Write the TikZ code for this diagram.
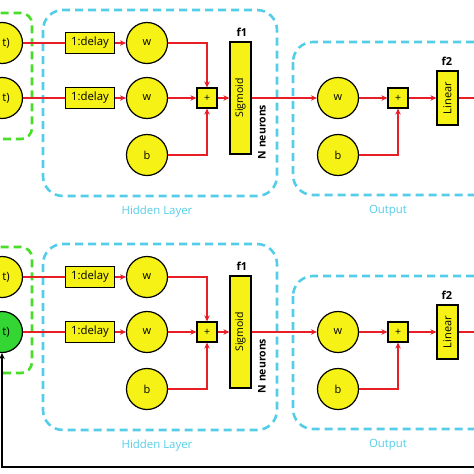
\documentclass[tikz,border=0pt]{standalone}
\usepackage{fontspec}
\setmainfont{Open Sans}
\usetikzlibrary{arrows.meta}
\definecolor{netred}{RGB}{232,30,38}
\definecolor{laycyan}{RGB}{84,206,232}
\definecolor{ingreen}{RGB}{72,222,40}
\definecolor{cellyellow}{RGB}{246,242,22}
\definecolor{feedgreen}{RGB}{52,214,52}
\tikzset{
    neuron/.style={circle, draw, line width=1.2pt, fill=cellyellow, minimum size=41pt, inner sep=0pt, font=\fontsize{11}{11}\selectfont}, % weight and bias circles
    unit/.style={draw, line width=1.2pt, fill=cellyellow, inner sep=0pt}, % yellow boxes
    delaybox/.style={unit, minimum width=49pt, minimum height=21pt, font=\fontsize{11.4}{11.4}\selectfont},
    sumbox/.style={unit, minimum size=20pt, font=\fontsize{10.5}{10.5}\selectfont},
    actbox/.style={unit, rotate=90, minimum height=21pt}, % transfer function boxes
    layerbox/.style={draw=laycyan, line width=2.6pt, dash pattern=on 8pt off 5pt, rounded corners=20pt},
    inbox/.style={draw=ingreen, line width=2.6pt, dash pattern=on 8pt off 5pt, rounded corners=11pt},
    link/.style={netred, line width=1.5pt, -{Stealth[length=6pt, width=5.5pt]}},
    feedback/.style={black, line width=2pt, -{Stealth[length=6pt, width=5.5pt]}},
    laytext/.style={text=laycyan, font=\fontsize{11.4}{11.4}\selectfont},
    ftext/.style={font=\bfseries\fontsize{11}{11}\selectfont}
}
\begin{document}
\begin{tikzpicture}[x=1pt, y=-1pt]
    \useasboundingbox (0,0) rectangle (474,474);
    \path[clip] (0,0) rectangle (474,474);

    \foreach \dy/\s/\fc in {0/t/cellyellow, 234/b/feedgreen} {
        % dashed groups
        \draw[inbox] (-30,13+\dy) rectangle (32,139+\dy);
        \draw[layerbox] (43,10+\dy) rectangle (277,196+\dy);
        \draw[layerbox] (293,42+\dy) rectangle (494,195+\dy);

        % inputs
        \node[neuron, label={[xshift=4pt, font=\fontsize{11.4}{11.4}\selectfont]center:t)}] (ina\s) at (2,43+\dy) {};
        \node[neuron, fill=\fc, label={[xshift=4pt, font=\fontsize{11.4}{11.4}\selectfont]center:t)}] (inb\s) at (2,98+\dy) {};

        % hidden layer
        \node[delaybox] (dla\s) at (90,43+\dy) {1:delay};
        \node[delaybox] (dlb\s) at (90,98+\dy) {1:delay};
        \node[neuron] (wa\s) at (147,43+\dy) {w};
        \node[neuron] (wb\s) at (147,98+\dy) {w};
        \node[neuron] (bh\s) at (147,155+\dy) {b};
        \node[sumbox] (sh\s) at (207,98+\dy) {+};
        \node[actbox, minimum width=112pt, font=\fontsize{10.5}{10.5}\selectfont] (sig\s) at (240.5,98+\dy) {Sigmoid};
        \node[ftext] (fa\s) at (242,32+\dy) {f1};
        \node[ftext, rotate=90, font=\bfseries\fontsize{10.5}{10.5}\selectfont] (nn\s) at (262,132+\dy) {N neurons};
        \node[laytext] (hl\s) at (157,212+\dy) {Hidden Layer};

        % output layer
        \node[neuron] (wo\s) at (338,98+\dy) {w};
        \node[neuron] (bo\s) at (338,155+\dy) {b};
        \node[sumbox] (so\s) at (398,98+\dy) {+};
        \node[actbox, minimum width=54pt, font=\fontsize{11}{11}\selectfont] (lin\s) at (447.5,98+\dy) {Linear};
        \node[ftext] (fb\s) at (447,61+\dy) {f2};
        \node[laytext] (ol\s) at (388,211+\dy) {Output};
        \coordinate (out\s) at (474,98+\dy);

        % connections
        \draw[netred, line width=1.5pt] (ina\s) -- (dla\s);
        \draw[netred, line width=1.5pt] (inb\s) -- (dlb\s);
        \draw[link] (dla\s) -- (wa\s);
        \draw[link] (dlb\s) -- (wb\s);
        \draw[link] (wa\s) -| (sh\s);
        \draw[link] (wb\s) -- (sh\s);
        \draw[link] (bh\s) -| (sh\s);
        \draw[link] (sh\s) -- (sig\s);
        \draw[link] (sig\s) -- (wo\s);
        \draw[link] (wo\s) -- (so\s);
        \draw[link] (bo\s) -| (so\s);
        \draw[link] (so\s) -- (lin\s);
        \draw[netred, line width=1.5pt] (lin\s) -- (out\s);
    }

    % feedback to the input
    \coordinate (fbend) at (474,467);
    \draw[feedback] (fbend) -| (inbb);
\end{tikzpicture}
\end{document}
